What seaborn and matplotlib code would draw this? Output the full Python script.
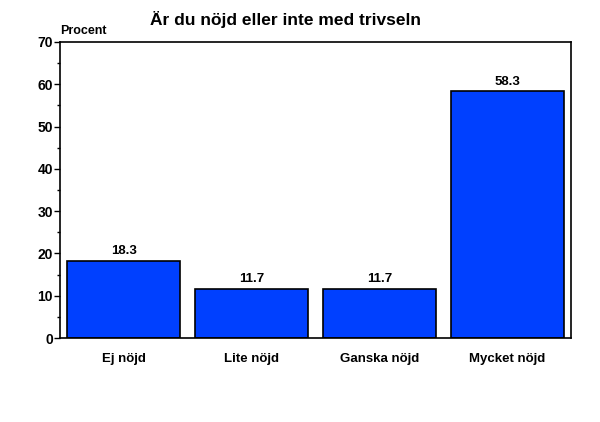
import matplotlib
matplotlib.use("Agg")
import matplotlib.pyplot as plt
import seaborn as sns
import pandas as pd
from matplotlib.ticker import MultipleLocator

# Data
kategorier = ["Ej nöjd", "Lite nöjd", "Ganska nöjd", "Mycket nöjd"]
procent = [18.3, 11.7, 11.7, 58.3]

df = pd.DataFrame({"kategori": kategorier, "procent": procent})

sns.set_style("white")
plt.rcParams['font.family'] = ['Liberation Sans', 'DejaVu Sans']
plt.rcParams['font.weight'] = 'bold'
plt.rcParams['text.color'] = 'black'
plt.rcParams['xtick.color'] = 'black'
plt.rcParams['ytick.color'] = 'black'

fig = plt.figure(figsize=(6, 4.22), dpi=100)
ax = fig.add_axes([0.1, 0.199, 0.852, 0.7015])

sns.barplot(data=df, x="kategori", y="procent", color="#0040FF",
            saturation=1, width=0.885, edgecolor="black", linewidth=1.2, ax=ax)

ax.set_ylim(0, 70)
ax.set_xlim(-0.5, 3.5)
ax.yaxis.set_major_locator(MultipleLocator(10))
ax.yaxis.set_minor_locator(MultipleLocator(5))
ax.tick_params(axis='y', which='major', length=4, width=1, labelsize=10, pad=1, direction='out', left=True)
ax.tick_params(axis='y', which='minor', length=2, width=1, left=True)
ax.tick_params(axis='x', length=0, labelsize=9.5, pad=11)
for lab in ax.get_xticklabels() + ax.get_yticklabels():
    lab.set_fontweight('bold')
ax.set_xlabel("")
ax.set_ylabel("")
for s in ax.spines.values():
    s.set_color("black")
    s.set_linewidth(1.2)

for i, v in enumerate(procent):
    ax.text(i, v + 0.8, f"{v:.1f}", ha='center', va='bottom', fontsize=9.5, fontweight='bold')

fig.text(60 / 600, 1 - 31 / 422, "Procent", ha='left', va='center', fontsize=9, fontweight='bold')
fig.text(285 / 600, 1 - 19 / 422, "Är du nöjd eller inte med trivseln", ha='center', va='center',
         fontsize=12.5, fontweight='bold')

fig.savefig("out.png", dpi=100)
